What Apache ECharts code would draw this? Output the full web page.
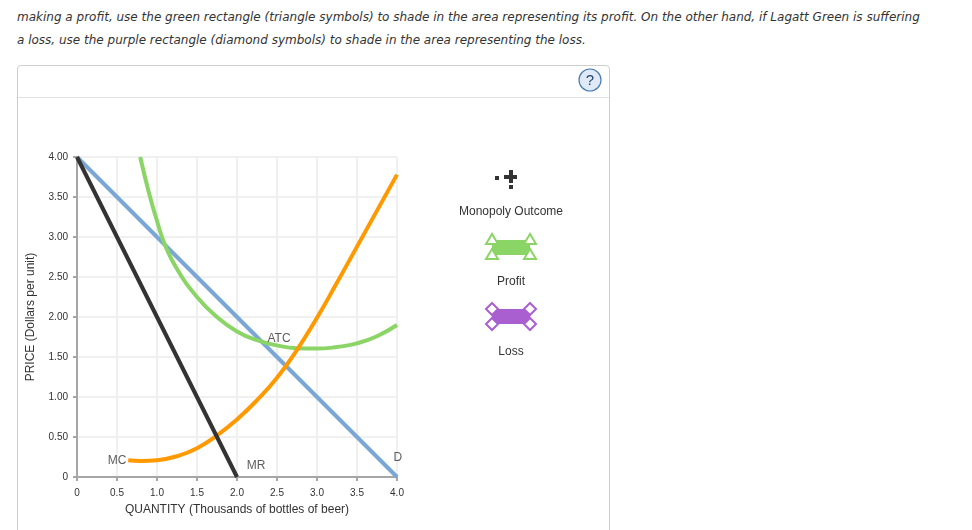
<!DOCTYPE html>
<html>
<head>
<meta charset="utf-8">
<script src="https://cdn.jsdelivr.net/npm/echarts@6/dist/echarts.min.js"></script>
<style>
  body { margin: 0; background: #fff; }
  .intro {
    position: absolute; left: 17px; top: 6px; width: 940px;
    font-family: "DejaVu Sans", Verdana, sans-serif; font-style: italic;
    font-size: 12px; line-height: 23px; color: #333;
  }
  .panel {
    position: absolute; left: 17px; top: 65px; width: 593px; height: 500px;
    border: 1px solid #cfcfcf; border-radius: 4px; box-sizing: border-box;
  }
  .panel-head { height: 31px; border-bottom: 1px solid #e2e2e2; }
  #chart { position: absolute; left: 0; top: 0; width: 972px; height: 530px; }
</style>
</head>
<body>
<div class="intro">making a profit, use the green rectangle (triangle symbols) to shade in the area representing its profit. On the other hand, if Lagatt Green is suffering<br>a loss, use the purple rectangle (diamond symbols) to shade in the area representing the loss.</div>
<div class="panel"><div class="panel-head"></div></div>
<div id="chart"></div>
<script>
// 需求曲线 D 和边际收益 MR
const demandPts = [[0, 4], [4, 0]]
const mrPts = [[0, 4], [2, 0]]
// 边际成本 MC
const mcPts = [[0.64, 0.21], [0.8, 0.2], [1.0, 0.21], [1.25, 0.26], [1.5, 0.36], [1.75, 0.52],
  [2.0, 0.72], [2.25, 0.96], [2.5, 1.24], [2.75, 1.59], [3.0, 1.99], [3.25, 2.43],
  [3.5, 2.88], [3.75, 3.33], [4.0, 3.78]]
// 平均总成本 ATC
const atcPts = [[0.79, 4.0], [0.9, 3.55], [1.0, 3.2], [1.1, 2.9], [1.25, 2.6], [1.5, 2.25],
  [1.75, 2.0], [2.0, 1.82], [2.25, 1.71], [2.5, 1.645], [2.75, 1.61], [3.0, 1.605],
  [3.25, 1.625], [3.5, 1.67], [3.75, 1.76], [4.0, 1.9]]
// 曲线标签
const curveLabels = [
  { name: 'ATC', value: [2.525, 1.725] },
  { name: 'MC', value: [0.5, 0.21] },
  { name: 'MR', value: [2.24, 0.14] },
  { name: 'D', value: [4.01, 0.24] }
]

const chart = echarts.init(document.getElementById('chart'))
const font = 'Liberation Sans, Arial, sans-serif'

const lineSeries = (data, color, smooth) => ({
  type: 'line', data, smooth,
  symbol: 'none', silent: true,
  lineStyle: { width: 4, color },
  z: 3
})

const legendX = 511
const option = {
  animation: false,
  grid: { left: 77, right: 575, top: 157, bottom: 53 },
  xAxis: {
    type: 'value', min: 0, max: 4, interval: 0.5,
    name: 'QUANTITY (Thousands of bottles of beer)',
    nameLocation: 'middle', nameGap: 27,
    nameTextStyle: { fontSize: 12, color: '#333', fontFamily: font },
    axisLine: { show: true, onZero: false, lineStyle: { color: '#a6a6a6', width: 2 } },
    axisTick: { show: true, length: 4, lineStyle: { color: '#a6a6a6', width: 2 } },
    axisLabel: { fontSize: 10, color: '#333', fontFamily: font, margin: 11,
      formatter: v => v === 0 ? '0' : v.toFixed(1) },
    splitLine: { show: true, lineStyle: { color: '#f0f0f0', width: 2 } }
  },
  yAxis: {
    type: 'value', min: 0, max: 4, interval: 0.5,
    name: 'PRICE (Dollars per unit)',
    nameLocation: 'middle', nameGap: 40,
    nameTextStyle: { fontSize: 12, color: '#333', fontFamily: font },
    axisLine: { show: true, onZero: false, lineStyle: { color: '#a6a6a6', width: 2 } },
    axisTick: { show: true, length: 4, lineStyle: { color: '#a6a6a6', width: 2 } },
    axisLabel: { fontSize: 10, color: '#333', fontFamily: font, margin: 9,
      formatter: v => v === 0 ? '0' : v.toFixed(2) },
    splitLine: { show: true, lineStyle: { color: '#f0f0f0', width: 2 } }
  },
  series: [
    lineSeries(demandPts, '#7ba7d6', false),
    lineSeries(atcPts, '#8bd466', true),
    lineSeries(mcPts, '#ff9900', true),
    lineSeries(mrPts, '#333333', false),
    {
      type: 'scatter', data: curveLabels, symbolSize: 0, silent: true, z: 5, clip: false,
      label: { show: true, position: 'inside', formatter: p => p.name,
        fontSize: 12, color: '#333', fontFamily: font }
    }
  ],
  graphic: [
    // 帮助按钮
    { type: 'circle', shape: { cx: 590, cy: 80, r: 11 },
      style: { fill: '#dfeaf6', stroke: '#4a7bb0', lineWidth: 1.2 } },
    { type: 'text', x: 590, y: 81,
      style: { text: '?', fontSize: 15, fontFamily: font, fill: '#24466e',
        align: 'center', verticalAlign: 'middle' } },
    // Monopoly Outcome 图标
    { type: 'rect', shape: { x: 495, y: 176, width: 4, height: 4 }, style: { fill: '#333' } },
    { type: 'rect', shape: { x: 504, y: 175, width: 13, height: 4 }, style: { fill: '#333' } },
    { type: 'rect', shape: { x: 509, y: 170, width: 4, height: 13 }, style: { fill: '#333' } },
    { type: 'rect', shape: { x: 509, y: 185, width: 4, height: 4 }, style: { fill: '#333' } },
    { type: 'text', x: legendX, y: 212,
      style: { text: 'Monopoly Outcome', fontSize: 12, fontFamily: font, fill: '#333',
        align: 'center', verticalAlign: 'middle' } },
    // Profit 图标
    { type: 'rect', shape: { x: 492, y: 240, width: 38, height: 15 }, style: { fill: '#8bd466' } },
    ...[[492, 240], [530, 240], [492, 255], [530, 255]].map(([x, y]) => ({
      type: 'polygon', shape: { points: [[x, y - 6], [x - 6, y + 4], [x + 6, y + 4]] },
      style: { fill: '#fff', stroke: '#8bd466', lineWidth: 2 }
    })),
    { type: 'text', x: legendX, y: 282,
      style: { text: 'Profit', fontSize: 12, fontFamily: font, fill: '#333',
        align: 'center', verticalAlign: 'middle' } },
    // Loss 图标
    { type: 'rect', shape: { x: 492, y: 309, width: 38, height: 15 }, style: { fill: '#a95fd0' } },
    ...[[492, 309], [530, 309], [492, 324], [530, 324]].map(([x, y]) => ({
      type: 'polygon', shape: { points: [[x, y - 6], [x + 6, y], [x, y + 6], [x - 6, y]] },
      style: { fill: '#fff', stroke: '#a95fd0', lineWidth: 2 }
    })),
    { type: 'text', x: legendX, y: 352,
      style: { text: 'Loss', fontSize: 12, fontFamily: font, fill: '#333',
        align: 'center', verticalAlign: 'middle' } }
  ]
}
chart.setOption(option)
</script>
</body>
</html>
